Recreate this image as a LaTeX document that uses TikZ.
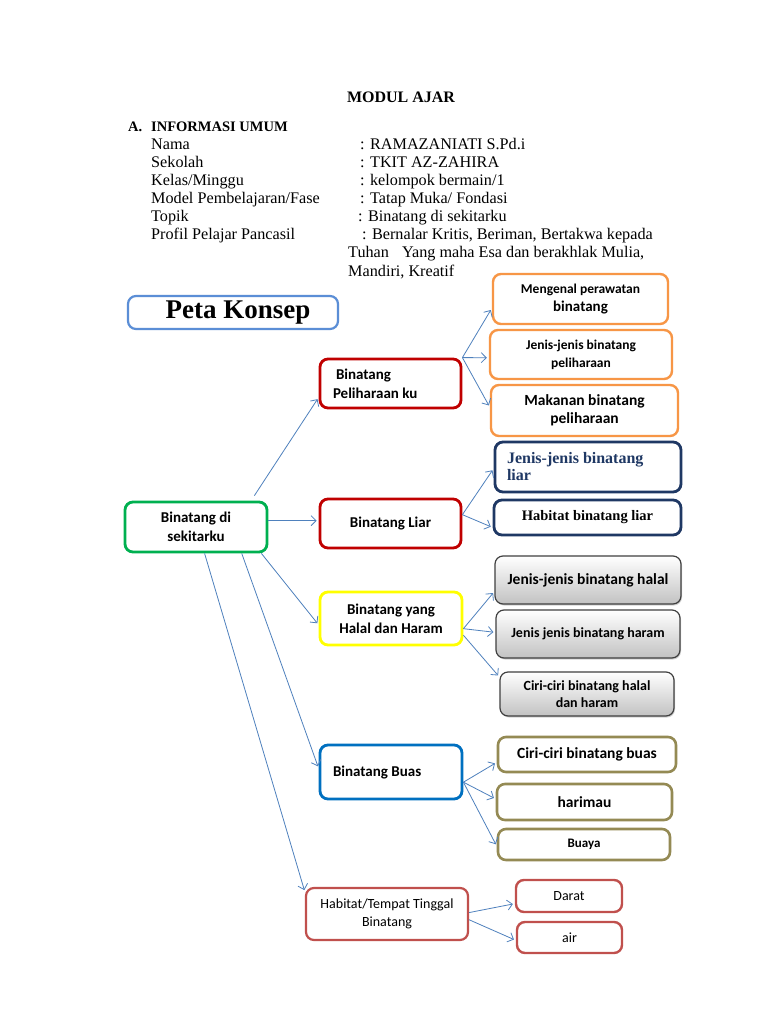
\documentclass[tikz,border=0pt]{standalone}
\usepackage{fontspec}
\setmainfont{Liberation Serif}
\newfontfamily\calib{Carlito}
\usetikzlibrary{arrows.meta,shadows,calc}

\definecolor{linkblue}{HTML}{4F81BD}
\definecolor{kblue}{HTML}{5B8ED6}
\definecolor{kgreen}{HTML}{00B050}
\definecolor{kred}{HTML}{C00000}
\definecolor{kyellow}{HTML}{FFFF00}
\definecolor{kbuas}{HTML}{0070C0}
\definecolor{kbrick}{HTML}{C0504D}
\definecolor{korange}{HTML}{F79646}
\definecolor{knavy}{HTML}{1F3864}
\definecolor{kolive}{HTML}{948A54}
\definecolor{kgrey}{HTML}{404040}
\newcommand{\fsz}[2]{\fontsize{#1}{#2}\selectfont}

\begin{document}
\begin{tikzpicture}[x=1pt,y=-1pt,
  txt/.style={inner sep=0pt,anchor=base west,font={\fsz{16.2}{18}}},
  kbox/.style={draw,rounded corners=8pt,line width=2.8pt,fill=white,align=center,inner sep=2pt},
  main/.style={kbox,minimum width=141pt,minimum height=49pt,font={\calib\bfseries\fsz{15}{19}}},
  sub/.style={kbox,line width=2.4pt,font={\calib\bfseries\fsz{14}{18}}},
  greybox/.style={draw=kgrey,line width=1.2pt,rounded corners=8pt,top color=white,bottom color=black!24,
    drop shadow={shadow xshift=1pt,shadow yshift=-1.5pt,opacity=0.35},align=center,font={\calib\bfseries\fsz{14}{18}}},
  link/.style={draw=linkblue,line width=0.8pt,-{Straight Barb[length=5pt,width=10pt]},shorten >=2pt}]

\useasboundingbox[fill=white] (0,0) rectangle (768,1024);

% header text
\node[inner sep=0pt,anchor=base,font={\bfseries\fsz{16}{18}}] (judul) at (401,103) {MODUL AJAR};
\node[txt,font={\bfseries\fsz{14.5}{18}}] (secA) at (128,132) {A.};
\node[txt,font={\bfseries\fsz{14.5}{18}}] (secInfo) at (151,132) {INFORMASI UMUM};

\node[txt] (kNama) at (151,150) {Nama};
\node[txt] (vNama) at (360,150) {: RAMAZANIATI S.Pd.i};
\node[txt] (kSekolah) at (151,168) {Sekolah};
\node[txt] (vSekolah) at (360,168) {: TKIT AZ-ZAHIRA};
\node[txt] (kKelas) at (151,186) {Kelas/Minggu};
\node[txt] (vKelas) at (360,186) {: kelompok bermain/1};
\node[txt] (kModel) at (151,204) {Model Pembelajaran/Fase};
\node[txt] (vModel) at (360,204) {: Tatap Muka/ Fondasi};
\node[txt] (kTopik) at (151,222) {Topik};
\node[txt] (vTopik) at (358,222) {: Binatang di sekitarku};
\node[txt] (kProfil) at (151,240) {Profil Pelajar Pancasil};
\node[txt] (vProfil) at (362,240) {: Bernalar Kritis, Beriman, Bertakwa kepada};
\node[txt] (vProfil2) at (348,258) {Tuhan\hspace{9pt} Yang maha Esa dan berakhlak Mulia,};
\node[txt] (vProfil3) at (348,276) {Mandiri, Kreatif};

% title box
\node[kbox,draw=kblue,line width=2.2pt,minimum width=210pt,minimum height=33pt,font={\bfseries\fsz{27}{30}}] (peta) at (233,312.5) {\hspace*{10pt}Peta Konsep};

% centre and middle column
\node[main,draw=kgreen,minimum width=142pt,minimum height=50pt] (sekitar) at (196,527) {Binatang di\\sekitarku};
\node[main,draw=kred,align=flush left,text width=115pt,inner xsep=13pt] (pel) at (390.5,383.5) {\hspace*{3pt}Binatang\\Peliharaan ku};
\node[main,draw=kred] (liar) at (390.5,523.5) {Binatang Liar};
\node[main,draw=kyellow,minimum width=142pt,minimum height=53pt] (halal) at (391,618.5) {Binatang yang\\Halal dan Haram};
\node[main,draw=kbuas,minimum width=142pt,minimum height=54pt,align=flush left,text width=116pt,inner xsep=13pt] (buas) at (391,772) {Binatang Buas};
\node[main,draw=kbrick,line width=2.2pt,minimum width=162pt,minimum height=52pt,font={\calib\fsz{14}{18}}] (habitat) at (387,914) {Habitat/Tempat Tinggal\\Binatang};

% right column
\node[sub,draw=korange,minimum width=175pt,minimum height=50pt] (meng) at (580.5,299) {{\fsz{13.5}{17}Mengenal perawatan}\\{\fsz{15}{18}binatang}};
\node[sub,draw=korange,minimum width=182pt,minimum height=49pt,font={\calib\bfseries\fsz{13.5}{18}}] (jpel) at (581,354.5) {Jenis-jenis binatang\\peliharaan};
\node[sub,draw=korange,minimum width=187pt,minimum height=51pt,font={\calib\bfseries\fsz{15.5}{18}}] (makan) at (584.5,410.5) {Makanan binatang\\peliharaan};

\node[sub,draw=knavy,line width=2.8pt,minimum width=186pt,minimum height=50pt,align=flush left,text width=162pt,inner xsep=12pt,text=knavy,font={\bfseries\fsz{16}{17}}] (jliar) at (588,467) {Jenis-jenis binatang\\liar};
\node[sub,draw=knavy,line width=2.8pt,minimum width=187pt,minimum height=35pt,font={\bfseries\fsz{14.5}{17}}] (hliar) at (587.5,517.5) {Habitat binatang liar};

\node[greybox,minimum width=186pt,minimum height=48pt,font={\calib\bfseries\fsz{15.5}{18}}] (jhalal) at (588,580) {Jenis-jenis binatang halal};
\node[greybox,minimum width=184pt,minimum height=48pt,font={\calib\bfseries\fsz{14}{18}}] (jharam) at (588,634) {Jenis jenis binatang haram};
\node[greybox,minimum width=174pt,minimum height=44pt,font={\calib\bfseries\fsz{14}{17}}] (ciri) at (587,694) {Ciri-ciri binatang halal\\dan haram};

\node[sub,draw=kolive,line width=2.6pt,minimum width=178pt,minimum height=35pt,font={\calib\bfseries\fsz{15.5}{18}}] (cbuas) at (587,754.5) {Ciri-ciri binatang buas};
\node[sub,draw=kolive,line width=2.6pt,minimum width=175pt,minimum height=36pt,font={\calib\bfseries\fsz{15.5}{18}}] (harimau) at (584.5,802) {harimau};
\node[sub,draw=kolive,line width=2.6pt,minimum width=172pt,minimum height=31pt,font={\calib\bfseries\fsz{13}{16}}] (buaya) at (584,844.5) {Buaya};

\node[sub,draw=kbrick,line width=2.4pt,minimum width=106pt,minimum height=32pt,font={\calib\fsz{14}{17}}] (darat) at (569,896) {Darat};
\node[sub,draw=kbrick,line width=2.4pt,minimum width=105pt,minimum height=31pt,font={\calib\fsz{14}{17}}] (air) at (569.5,937.5) {air};

% connectors from the centre box
\draw[link] ($(sekitar.north east)+(-14,-5)$) -- (pel.191);
\draw[link] (sekitar.5) -- (sekitar.5 -| liar.west);
\draw[link] (sekitar.338) -- (halal.185);
\draw[link] (sekitar.330) -- (buas.177);
\draw[link] (sekitar.288) -- (habitat.165);

% connectors to the right column
\draw[link] (pel.north east) -- (meng.186);
\draw[link] (pel.north east) -- (jpel.182);
\draw[link] (pel.north east) -- (makan.178);
\draw[link] (liar.7) -- (jliar.181);
\draw[link] (liar.7) -- (hliar.186);
\draw[link] (halal.352) -- (jhalal.187);
\draw[link] (halal.352) -- (jharam.179);
\draw[link] (halal.347) -- (ciri.169);
\draw[link] (buas.352) -- (cbuas.185);
\draw[link] (buas.352) -- (harimau.178);
\draw[link] (buas.352) -- (buaya.181);
\draw[link] (habitat.1) -- (darat.188);
\draw[link] (habitat.356) -- (air.183);

\end{tikzpicture}
\end{document}
